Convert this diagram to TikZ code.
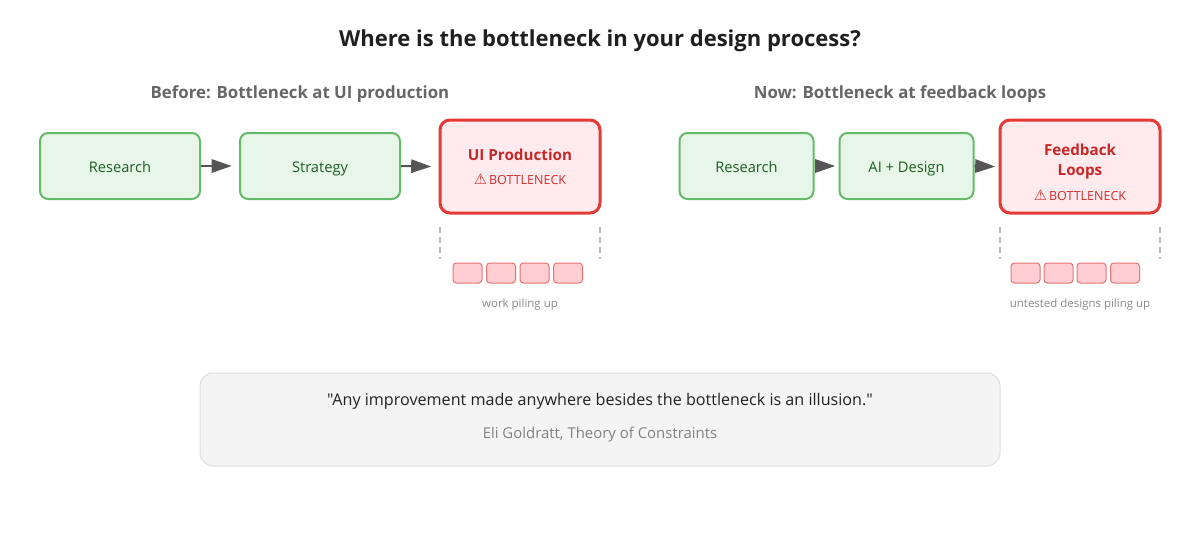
\documentclass[tikz,border=0pt]{standalone}
\usepackage{fontspec}
\setmainfont{Open Sans}
\newfontfamily\qfont{Open Sans}[Ligatures=TeXOff]
\newfontfamily\symfont{DejaVu Sans}
\usetikzlibrary{arrows.meta}
\definecolor{gfill}{HTML}{E8F5E9}
\definecolor{gdraw}{HTML}{66BB6A}
\definecolor{gtext}{HTML}{1B5E20}
\definecolor{rfill}{HTML}{FFEBEE}
\definecolor{rdraw}{HTML}{E53935}
\definecolor{rtext}{HTML}{C62828}
\definecolor{rsub}{HTML}{D32F2F}
\definecolor{pfill}{HTML}{FFCDD2}
\definecolor{pdraw}{HTML}{E57373}
\definecolor{qfill}{HTML}{F4F4F4}
\definecolor{qdraw}{HTML}{DDDDDD}
\definecolor{subgray}{HTML}{666666}
\definecolor{lgray}{HTML}{888888}
\definecolor{arrgray}{HTML}{555555}
\definecolor{dgray}{HTML}{BBBBBB}
\tikzset{
  gbox/.style={draw=gdraw, fill=gfill, line width=1.5pt, rounded corners=6pt,
    minimum width=120pt, minimum height=49.5pt, text=gtext, font=\fontsize{11}{13}\selectfont,
    text height=9.5pt, text depth=0pt},
  rbox/.style={draw=rdraw, fill=rfill, line width=2.25pt, rounded corners=7.5pt,
    minimum width=120pt, minimum height=69.75pt},
  pbox/.style={draw=pdraw, fill=pfill, line width=0.75pt, rounded corners=2.5pt,
    minimum width=21.75pt, minimum height=15pt, inner sep=0pt},
  flow/.style={draw=arrgray, line width=1.5pt, -{Triangle[length=15pt,width=10pt]}},
  flowhead/.style={draw=arrgray, line width=1.5pt, -{Triangle[length=15pt,width=10pt]}, shorten >=-2pt},
  dline/.style={draw=dgray, line width=0.9pt, dash pattern=on 4.5pt off 3pt},
  subtitle/.style={text=subgray, font=\bfseries\fontsize{12.6}{16}\selectfont},
  note/.style={text=lgray, font=\fontsize{8.6}{10}\selectfont},
  redsub/.style={text=rsub, font=\fontsize{9.4}{11}\selectfont}
}
\begin{document}
\begin{tikzpicture}[x=0.75pt,y=-0.75pt]
\useasboundingbox (0,0) rectangle (1200,533);
\node[font=\bfseries\fontsize{16.5}{20}\selectfont, text=black!88] (title) at (600,41) {Where is the bottleneck in your design process?};
\node[subtitle] (subL) at (300,94) {Before: Bottleneck at UI production};
\node[subtitle] (subR) at (900,94) {Now: Bottleneck at feedback loops};
% left row
\node[gbox] (resL) at (120,166) {Research};
\node[gbox] (strL) at (320,166) {Strategy};
\node[rbox] (uiL) at (520,166.5) {};
\node[text=rtext, font=\bfseries\fontsize{11.4}{13}\selectfont] (uiT) at (520,155) {UI Production};
\node[redsub] (uiB) at (520,179.5) {{\symfont\fontsize{11}{11}\selectfont ⚠}\,BOTTLENECK};
\draw[flow] (resL.east) -- ([xshift=-5.5pt]strL.west);
\draw[flow] (strL.east) -- ([xshift=-5.5pt]uiL.west);
% right row
\node[gbox, minimum width=100.5pt] (resR) at (746.5,166) {Research};
\node[gbox, minimum width=100.5pt] (aiR) at (906.5,166) {AI + Design};
\node[rbox] (fbR) at (1080,166.5) {};
\node[text=rtext, font=\bfseries\fontsize{11.4}{15}\selectfont, align=center] (fbT) at (1080,162) {Feedback\\Loops};
\node[redsub] (fbB) at (1080,195.5) {{\symfont\fontsize{11}{11}\selectfont ⚠}\,BOTTLENECK};
\draw[flowhead] (resR.east) -- ([xshift=-4.5pt]aiR.west);
\draw[flowhead] (aiR.east) -- ([xshift=-4.5pt]fbR.west);
% dashed lines
\coordinate (dL1a) at (440,227); \coordinate (dL1b) at (440,259);
\coordinate (dL2a) at (600,227); \coordinate (dL2b) at (600,259);
\coordinate (dR1a) at (1000,227); \coordinate (dR1b) at (1000,259);
\coordinate (dR2a) at (1160,227); \coordinate (dR2b) at (1160,259);
\draw[dline] (dL1a) -- (dL1b);
\draw[dline] (dL2a) -- (dL2b);
\draw[dline] (dR1a) -- (dR1b);
\draw[dline] (dR2a) -- (dR2b);
% piles
\node[pbox] (pL1) at (467.5,273) {};
\node[pbox] (pL2) at (501,273) {};
\node[pbox] (pL3) at (534.5,273) {};
\node[pbox] (pL4) at (568,273) {};
\node[pbox] (pR1) at (1025.5,273) {};
\node[pbox] (pR2) at (1058.5,273) {};
\node[pbox] (pR3) at (1091.5,273) {};
\node[pbox] (pR4) at (1125,273) {};
\node[note] (nL) at (520,305) {work piling up};
\node[note] (nR) at (1080,305) {untested designs piling up};
% quote
\node[draw=qdraw, fill=qfill, line width=0.75pt, rounded corners=10pt, minimum width=600pt, minimum height=69.75pt] (quote) at (600,419.5) {};
\node[text=black!87, font=\qfont\fontsize{12.1}{14}\selectfont] (qT) at (600,401) {"Any improvement made anywhere besides the bottleneck is an illusion."};
\node[text=lgray!95!black, font=\fontsize{11.2}{13}\selectfont] (qA) at (600,435) {Eli Goldratt, Theory of Constraints};
\end{tikzpicture}
\end{document}
